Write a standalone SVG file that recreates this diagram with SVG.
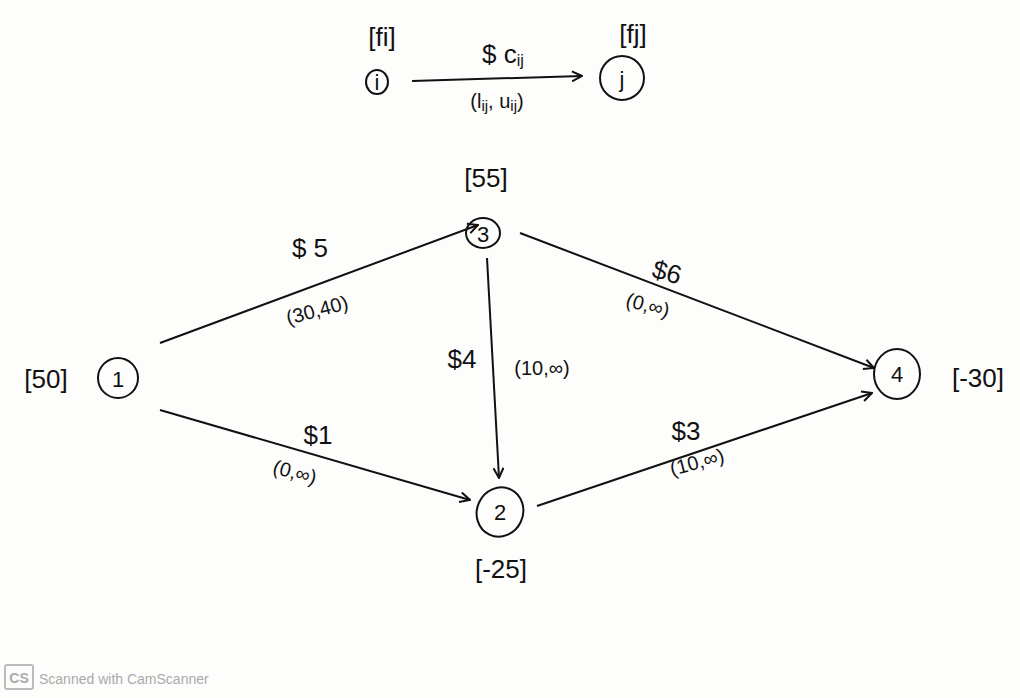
<svg xmlns="http://www.w3.org/2000/svg" width="1020" height="698" viewBox="0 0 1020 698">
<style>
.n{fill:none;stroke:#111;stroke-width:2}
.e{fill:none;stroke:#111;stroke-width:2;marker-end:url(#ah)}
text{font-family:"Liberation Sans","DejaVu Sans",sans-serif;fill:#111}
.lab{font-size:26px;text-anchor:middle}
.sm{font-size:20px;text-anchor:middle}
.nl{font-size:22px;text-anchor:middle;dominant-baseline:central}
</style>
<defs>
<marker id="ah" viewBox="0 0 12 12" refX="11" refY="6" markerWidth="12" markerHeight="12" markerUnits="userSpaceOnUse" orient="auto">
<path d="M1,1 L11,6 L1,11" fill="none" stroke="#111" stroke-width="2"/>
</marker>
</defs>
<rect width="1020" height="698" fill="#fdfdfc"/>
<g id="legend">
<text class="lab" x="382" y="46" font-size="24">[fi]</text>
<ellipse class="n" cx="377" cy="82" rx="11" ry="12"/>
<text class="nl" x="377" y="82" font-size="18">i</text>
<path class="e" d="M412,81 L582,76"/>
<text class="lab" x="503" y="63" font-size="24">$ c<tspan font-size="16" dy="3">ij</tspan></text>
<text class="sm" x="497" y="108" font-size="22">(l<tspan font-size="15" dy="3">ij</tspan><tspan dy="-3">, u</tspan><tspan font-size="15" dy="3">ij</tspan><tspan dy="-3">)</tspan></text>
<text class="lab" x="633" y="43" font-size="24">[fj]</text>
<ellipse class="n" cx="622" cy="78" rx="22" ry="22"/>
<text class="nl" x="622" y="79" font-size="24">j</text>
</g>
<g id="connectors">
<path class="e" d="M160,343 L478,225"/>
<path class="e" d="M520,233 L874,368"/>
<path class="e" d="M487,258 L499,478"/>
<path class="e" d="M160,410 L470,500"/>
<path class="e" d="M537,506 L872,393"/>
<text class="lab" x="310" y="257">$ 5</text>
<text class="sm" x="317" y="317" transform="rotate(-15 317 310)">(30,40)</text>
<text class="lab" x="667" y="281" transform="rotate(15 667 272)">$6</text>
<text class="sm" x="648" y="312" transform="rotate(15 648 305)">(0,∞)</text>
<text class="lab" x="462" y="368">$4</text>
<text class="sm" x="542" y="375">(10,∞)</text>
<text class="lab" x="318" y="444">$1</text>
<text class="sm" x="295" y="479" transform="rotate(15 295 472)">(0,∞)</text>
<text class="lab" x="686" y="440">$3</text>
<text class="sm" x="697" y="469" transform="rotate(-15 697 462)">(10,∞)</text>
</g>
<g id="node3">
<ellipse class="n" cx="483" cy="233" rx="17" ry="15"/>
<text class="nl" x="483" y="234">3</text>
<text class="lab" x="486" y="187">[55]</text>
</g>
<g id="node1">
<ellipse class="n" cx="118" cy="378" rx="20" ry="20"/>
<text class="nl" x="118" y="379">1</text>
<text class="lab" x="46" y="388">[50]</text>
</g>
<g id="node2">
<ellipse class="n" cx="500" cy="512" rx="23" ry="25" transform="rotate(25 500 512)"/>
<text class="nl" x="500" y="512">2</text>
<text class="lab" x="501" y="578">[-25]</text>
</g>
<g id="node4">
<ellipse class="n" cx="897" cy="374" rx="23" ry="25"/>
<text class="nl" x="897" y="374" font-size="26">4</text>
<text class="lab" x="978" y="387">[-30]</text>
</g>
<g id="watermark">
<rect x="5" y="665" width="28" height="24" rx="2" fill="none" stroke="#bbb" stroke-width="2"/>
<text x="19" y="683" font-size="14" font-weight="bold" text-anchor="middle" style="fill:#aaa">CS</text>
<text x="39" y="684" font-size="14" style="fill:#aaa">Scanned with CamScanner</text>
</g>
</svg>
